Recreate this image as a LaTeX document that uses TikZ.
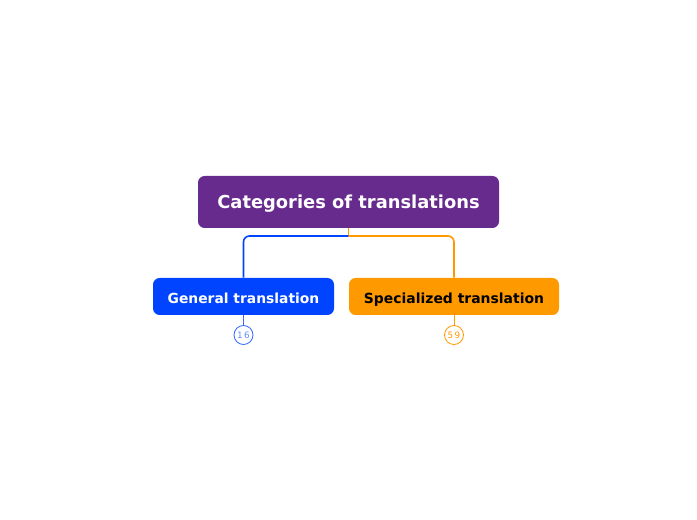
\documentclass[tikz,border=0pt]{standalone}
\usepackage{fontspec}
\setmainfont{DejaVu Sans}
\usetikzlibrary{shapes,calc}
\definecolor{rootpurple}{HTML}{672B8E}
\definecolor{genblue}{HTML}{0044FF}
\definecolor{specorange}{HTML}{FF9900}
\tikzset{
  topic/.style={rectangle, rounded corners=5pt, inner sep=0pt, align=center, text height=1.9ex, text depth=0ex},
  badge/.style={circle, draw, line width=0.6pt, fill=white, minimum size=14.25pt, inner sep=0pt, font=\fontsize{6.6}{7}\selectfont},
  branch/.style={line width=1.2pt, rounded corners=4.5pt}
}

\begin{document}
\begin{tikzpicture}[x=0.75pt,y=-0.75pt]
		\useasboundingbox (0,0) rectangle (697,520);
		\path (348.5, 202) node[topic, fill=rootpurple, text=white, minimum width=225.75pt, minimum height=39pt, font=\bfseries\fontsize{13.4}{15}\selectfont] (root) {Categories of translations}
  		(243.5, 296.5) node[topic, fill=genblue, text=white, minimum width=135.75pt, minimum height=27.75pt, font=\bfseries\fontsize{10.4}{12}\selectfont] (gen) {General translation}
  		(454, 296.5) node[topic, fill=specorange, text=black, minimum width=157.5pt, minimum height=27.75pt, font=\bfseries\fontsize{10.45}{12}\selectfont] (spec) {Specialized translation}
  		(348.5, 236) coordinate (jn)
  		(243.5, 335) node[badge, draw=genblue!80, text=genblue!60] (n16) {1\,6}
  		(454, 335) node[badge, draw=specorange, text=specorange] (n59) {5\,9};

		\draw[specorange, line width=1.2pt] (root.south) -- (jn);
		\draw[branch, genblue] (jn) -| (gen.north);
		\draw[branch, specorange] (jn) -| (spec.north);
		\draw[genblue!80, line width=0.6pt] (gen.south) -- (n16.north);
		\draw[specorange, line width=0.6pt] (spec.south) -- (n59.north);
	\end{tikzpicture}
\end{document}
